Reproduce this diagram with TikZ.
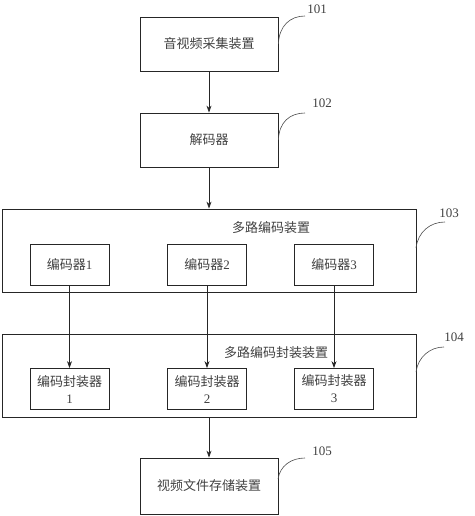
\documentclass[tikz,border=0pt]{standalone}
\usepackage{fontspec}
\setmainfont{Liberation Serif}
\newfontfamily\cjk{Noto Sans CJK SC}
\usetikzlibrary{arrows.meta}
\tikzset{
  unit/.style={draw=black!85, line width=0.8pt, text=black!75, inner sep=0pt,
    font=\fontsize{13pt}{17pt}\selectfont, align=center},
  bigbox/.style={unit, minimum width=138pt, minimum height=54pt},
  framebox/.style={unit, minimum width=414pt, minimum height=83pt},
  smallbox/.style={unit, minimum width=79pt, minimum height=41pt},
  flow/.style={draw=black!85, line width=0.8pt, -{Stealth[length=7pt,width=5pt]}},
  refline/.style={draw=black!70, line width=0.6pt},
  refnum/.style={text=black!75, font=\fontsize{13pt}{15pt}\selectfont}
}
\begin{document}
\begin{tikzpicture}[x=1pt,y=-1pt]
        \useasboundingbox (0,0) rectangle (474,516);
        \node[bigbox] (capture) at (209,44) {\cjk 音视频采集装置};
        \node[bigbox] (decoder) at (209,140) {\cjk 解码器};
        \node[framebox] (multienc) at (209,250.5) {};
        \node[unit, draw=none] at (271,228) {\cjk 多路编码装置};
        \node[smallbox] (enc1) at (69.5,264.5) {{\cjk 编码器}1};
        \node[smallbox] (enc2) at (207,264.5) {{\cjk 编码器}2};
        \node[smallbox] (enc3) at (334,264.5) {{\cjk 编码器}3};
        \node[framebox] (multipack) at (209,375.5) {};
        \node[unit, draw=none] at (276,353) {\cjk 多路编码封装装置};
        \node[smallbox] (pack1) at (69.5,389) {{\cjk 编码封装器}\\1};
        \node[smallbox] (pack2) at (207,389) {{\cjk 编码封装器}\\2};
        \node[smallbox] (pack3) at (334,389) {{\cjk 编码封装器}\\3};
        \node[bigbox, minimum height=56pt] (storage) at (209,486) {\cjk 视频文件存储装置};
        % connectors
        \draw[flow] (capture) -- (decoder);
        \draw[flow] (decoder) -- (multienc.north -| decoder);
        \foreach \i in {1,2,3}
          \draw[flow] (enc\i) -- (pack\i);
        \draw[flow] (multipack.south -| storage) -- (storage);
        % reference numbers
        \node[refnum] (n101) at (317,9) {101};
        \node[refnum] (n102) at (322,103) {102};
        \node[refnum] (n103) at (449,213) {103};
        \node[refnum] (n104) at (454,337) {104};
        \node[refnum] (n105) at (322,451) {105};
        \draw[refline] (capture.east) .. controls (279,26) and (290,16) .. (305,16);
        \draw[refline] (decoder.east) .. controls (279,122) and (290,113) .. (305,113);
        \draw[refline] (416,248) .. controls (418,232) and (430,222) .. (445,222);
        \draw[refline] (416,372) .. controls (418,357) and (430,347) .. (444,347);
        \draw[refline] (278,479) .. controls (280,466) and (291,458) .. (305,458);
\end{tikzpicture}
\end{document}
